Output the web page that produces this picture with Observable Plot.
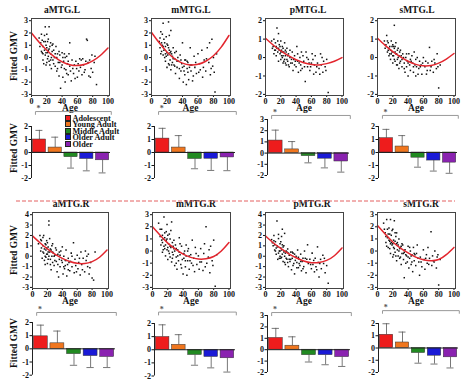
<!DOCTYPE html>
<html><head><meta charset="utf-8">
<script src="https://cdn.jsdelivr.net/npm/d3@7"></script>
<script src="https://cdn.jsdelivr.net/npm/@observablehq/plot@0.6"></script>
<style>
body{margin:0;background:#fff;}
#c{position:relative;width:474px;height:379px;overflow:hidden;background:#fff;font-family:"Liberation Serif","DejaVu Serif",serif;font-weight:bold;color:#111;}
.a{position:absolute;}
.t{position:absolute;font-size:9.5px;transform:translateX(-50%);white-space:nowrap;line-height:1;}
.yl{position:absolute;font-size:9.5px;white-space:nowrap;transform:translate(-50%,-50%) rotate(-90deg);line-height:1;}
.lg{position:absolute;font-size:8.2px;white-space:nowrap;line-height:6.6px;height:6.6px;}
.lg span{display:inline-block;width:4px;height:4px;border:0.7px solid #222;margin-right:1.5px;vertical-align:0px;}
</style></head><body><div id="c"></div><script>
// ---------- data ----------
const regions = ["aMTG.L","mMTG.L","pMTG.L","sMTG.L","aMTG.R","mMTG.R","pMTG.R","sMTG.R"];
const categories = ["Adolescent","Young Adult","Middle Adult","Older Adult","Older"];
const colors = ["#ee1c1c","#f0761e","#218a21","#1a1ad6","#8a22b0"];
const ageTicks = [0,20,40,60,80,100];
const scatterRange = [[-3,3],[-3,3],[-2,2],[-2,2],[-3,4],[-3,3],[-3,4],[-3,3]];
const barRange = [[-2,2],[-2,2],[-2,3],[-2,2],[-2,2],[-2,2],[-2,3],[-2,2]];

const fitAges = [0,10,20,30,40,50,60,70,80,90,100];
const fit_aMTG_L = [2.0,1.25,0.6,0.05,-0.35,-0.58,-0.65,-0.55,-0.27,0.17,0.78];
const fit_mMTG_L = [2.05,1.2,0.45,-0.1,-0.45,-0.6,-0.55,-0.3,0.15,0.85,1.8];
const fit_pMTG_L = [1.05,0.68,0.36,0.1,-0.12,-0.28,-0.38,-0.4,-0.33,-0.2,0.0];
const fit_sMTG_L = [1.05,0.66,0.32,0.04,-0.2,-0.37,-0.45,-0.43,-0.3,-0.08,0.22];
const fit_aMTG_R = [1.95,1.3,0.7,0.2,-0.2,-0.5,-0.68,-0.7,-0.52,-0.1,0.6];
const fit_mMTG_R = [2.0,1.3,0.65,0.15,-0.25,-0.52,-0.66,-0.64,-0.45,0.0,0.7];
const fit_pMTG_R = [1.95,1.3,0.75,0.25,-0.15,-0.45,-0.62,-0.6,-0.4,0.05,0.8];
const fit_sMTG_R = [2.1,1.4,0.75,0.25,-0.15,-0.5,-0.72,-0.8,-0.7,-0.3,0.3];

const pts_aMTG_L = [[10,1.6],[12,1.2],[13,0.5],[14,1.4],[15,0.9],[15,-0.2],[16,1.3],[17,0.6],[18,2.5],[18,0.2],[19,1.0],[20,0.8],[20,-0.4],[21,0.4],[22,1.5],[22,0.1],[23,2.5],[23,0.7],[24,-0.6],[25,1.2],[25,0.3],[26,-0.9],[27,0.5],[28,-0.2],[28,1.1],[30,0.0],[31,-0.7],[32,0.9],[33,-1.1],[34,0.3],[35,-0.4],[36,-1.5],[37,0.2],[38,-2.5],[39,-0.8],[40,0.4],[41,-1.6],[42,-0.3],[43,0.3],[44,-2.0],[45,-1.0],[46,0.1],[47,-0.5],[48,-1.4],[50,1.2],[50,-0.7],[52,-1.9],[53,-0.2],[55,-1.3],[56,-0.6],[58,-0.3],[60,-1.6],[61,-0.5],[62,-1.1],[64,-0.8],[65,-0.2],[66,-1.4],[68,-0.6],[70,-1.0],[72,1.5],[73,1.4],[74,-0.4],[75,-1.5],[76,-0.2],[78,-0.9],[80,-1.2],[82,-0.4],[85,-2.2],[83,0.1],[14,0.4],[17,1.8],[19,-0.6],[21,1.3],[24,0.9],[26,0.0],[29,0.6],[33,0.0],[36,0.5],[40,-0.6],[44,0.0],[48,-0.3],[54,-0.9],[59,-0.9],[67,-0.1],[11,0.9],[13,1.9],[15,0.3],[16,-0.5],[18,1.3],[19,0.4],[20,1.9],[21,-0.1],[22,0.6],[23,-0.3],[25,-0.2],[27,1.0],[29,-0.5],[31,0.3],[34,-0.9],[37,-0.4],[41,0.0],[43,-0.9],[46,-1.3],[49,0.3],[51,-1.1],[57,-1.7],[63,-0.1],[69,-1.2],[71,-0.3],[77,-1.6],[79,0.2]];
const pts_mMTG_L = [[10,1.3],[11,0.8],[12,2.1],[13,0.5],[14,1.0],[15,2.8],[15,0.2],[16,1.5],[17,0.0],[18,0.9],[18,-0.3],[19,1.7],[20,0.4],[20,-0.8],[21,0.2],[22,2.9],[22,-0.5],[23,1.8],[23,0.6],[24,-0.2],[25,2.2],[25,-1.0],[26,0.3],[27,-0.4],[28,0.8],[29,-0.6],[30,-0.1],[31,-1.3],[32,0.5],[33,-0.8],[35,-0.3],[36,-1.7],[37,0.2],[38,-1.1],[39,-0.5],[40,1.2],[41,-2.0],[42,-0.7],[43,-1.4],[44,-0.2],[45,-2.2],[46,-0.9],[47,-0.4],[48,-1.8],[50,0.8],[51,-1.1],[52,-0.6],[54,-1.5],[55,0.1],[56,-0.8],[58,-1.3],[60,0.3],[62,-0.5],[63,-1.0],[65,0.6],[66,-1.6],[68,-0.2],[70,-1.1],[72,0.8],[74,-0.4],[75,1.2],[76,-1.4],[78,1.5],[79,-0.7],[80,0.0],[82,-2.8],[84,0.3],[13,1.2],[16,0.6],[19,0.1],[21,1.0],[24,0.4],[27,0.1],[30,-0.7],[34,0.0],[38,-0.2],[42,-1.1],[46,-0.3],[49,-0.8],[11,1.6],[12,0.3],[14,1.9],[15,0.9],[17,1.2],[18,0.3],[20,1.1],[22,0.8],[23,-0.6],[25,0.5],[26,-0.6],[28,-0.1],[30,0.4],[33,-0.3],[36,-0.9],[40,-0.8],[43,-0.2],[47,-1.2],[50,-0.6],[53,-1.9],[57,-0.4],[61,-1.2],[67,-0.8],[71,-0.1],[77,-0.9],[81,-1.2]];
const pts_pMTG_L = [[8,0.9],[10,0.6],[11,1.0],[12,0.4],[13,0.8],[14,0.1],[15,1.6],[15,0.5],[16,0.3],[17,1.3],[17,-0.2],[18,0.7],[19,0.2],[20,0.9],[20,-0.1],[21,0.4],[22,0.0],[22,0.6],[23,-0.3],[24,0.3],[25,0.8],[25,-0.1],[26,0.1],[27,-0.4],[28,0.5],[29,-0.2],[30,0.2],[31,-0.5],[32,0.0],[33,-0.3],[35,0.3],[36,-0.7],[37,-0.1],[38,0.1],[40,-0.5],[41,0.6],[42,-0.2],[43,-0.8],[45,0.0],[46,-0.4],[47,0.3],[48,-0.6],[50,-0.2],[52,-1.3],[53,0.3],[55,-0.5],[56,-0.1],[58,-0.7],[60,-0.3],[61,0.2],[63,-0.9],[64,-0.4],[65,0.1],[66,-0.8],[68,-0.3],[70,-0.6],[72,0.2],[73,-0.4],[75,-0.8],[76,-0.2],[78,-0.5],[80,-0.1],[82,-1.9],[14,0.6],[18,0.4],[21,0.1],[23,0.5],[26,0.4],[29,0.1],[34,-0.1],[39,-0.2],[44,-0.3],[49,0.1],[57,-0.3],[9,0.5],[11,0.2],[13,0.4],[16,0.9],[17,0.5],[19,0.6],[20,0.3],[22,0.3],[23,0.1],[24,-0.2],[26,-0.3],[27,0.3],[28,-0.1],[30,-0.4],[32,0.4],[35,-0.3],[38,-0.4],[42,0.2],[46,-0.7],[51,-0.5],[54,0.0],[59,-0.5],[62,-0.1],[67,-0.5],[71,-0.9],[74,0.0],[79,-0.7]];
const pts_sMTG_L = [[9,0.9],[10,0.5],[12,1.2],[13,0.3],[14,0.8],[15,0.1],[16,0.6],[17,-0.1],[18,0.9],[19,0.3],[20,0.7],[20,-0.3],[21,0.1],[22,1.75],[22,0.5],[23,-0.2],[24,0.8],[24,0.2],[25,-0.4],[26,0.4],[27,0.0],[28,-0.6],[29,0.3],[30,-0.2],[31,0.1],[32,-0.5],[33,0.2],[35,-0.3],[36,-0.8],[37,0.0],[38,-0.5],[40,-1.0],[41,0.2],[42,-0.4],[43,-0.7],[45,0.1],[46,-0.3],[47,-0.8],[48,0.3],[50,-1.0],[51,-0.5],[52,0.0],[54,-0.6],[55,-0.2],[57,-0.4],[58,-0.9],[60,0.0],[62,-0.5],[63,-0.2],[65,-0.7],[66,-0.3],[68,0.55],[70,-0.5],[71,-0.2],[73,-0.8],[75,-0.3],[77,-0.6],[78,0.2],[80,-1.65],[82,-0.4],[15,0.5],[18,0.2],[21,0.6],[23,0.3],[26,-0.1],[29,-0.3],[34,0.0],[39,-0.2],[44,-0.2],[49,-0.4],[56,-0.5],[11,0.7],[13,0.9],[14,0.4],[16,0.2],[17,0.4],[19,0.6],[20,0.1],[22,-0.1],[23,0.6],[25,0.2],[26,-0.4],[27,0.5],[28,0.1],[30,0.4],[32,-0.1],[35,-0.6],[38,0.2],[40,-0.3],[43,-0.1],[47,-0.5],[50,-0.1],[53,-0.9],[59,-0.3],[64,-0.9],[69,-0.7],[74,-0.1],[79,-0.5]];
const pts_aMTG_R = [[8,1.2],[10,2.0],[11,0.5],[12,1.5],[13,-0.2],[14,1.0],[15,2.0],[15,0.3],[16,-0.4],[17,1.2],[18,0.6],[18,-0.1],[19,1.5],[20,0.2],[20,-0.7],[21,0.9],[22,3.4],[22,3.0],[22,0.0],[23,1.7],[24,-0.3],[25,0.6],[25,-1.3],[26,1.0],[27,-0.6],[28,0.3],[29,-0.9],[30,0.1],[31,0.8],[32,-0.5],[33,-1.5],[34,0.2],[35,-2.0],[36,-0.3],[37,-1.0],[38,0.5],[40,-0.6],[41,-1.7],[42,0.0],[43,-1.2],[44,-0.4],[45,0.6],[46,-1.9],[47,-0.8],[48,-0.2],[50,-1.4],[51,-0.5],[52,0.3],[53,-1.0],[55,1.3],[56,-1.6],[57,-0.3],[58,-0.9],[60,0.1],[61,-1.2],[62,-0.6],[64,-1.8],[65,0.4],[66,-0.8],[68,-0.2],[70,-1.5],[71,0.5],[72,-0.4],[74,-1.0],[75,0.2],[76,-1.7],[78,-0.6],[80,-2.1],[82,-2.3],[84,0.4],[14,0.4],[17,0.0],[19,0.8],[21,-0.3],[24,0.7],[27,0.4],[30,-0.4],[36,0.4],[39,-0.4],[44,-0.9],[49,-0.6],[11,1.6],[12,0.8],[14,1.8],[16,0.7],[17,-0.8],[18,1.1],[19,0.2],[20,1.3],[21,0.4],[23,0.4],[24,-0.8],[26,0.0],[27,1.2],[29,0.0],[32,0.6],[34,-0.8],[37,0.1],[40,0.9],[42,-1.0],[45,-0.4],[48,-1.3],[53,0.0],[59,-1.5],[63,-0.2],[67,-1.3],[73,0.0],[77,-1.1]];
const pts_mMTG_R = [[8,2.3],[10,1.2],[11,0.5],[12,1.8],[13,-0.1],[14,1.0],[15,2.8],[15,0.4],[16,1.5],[17,-0.4],[18,0.9],[19,2.2],[19,0.1],[20,1.3],[20,-0.7],[21,0.6],[22,-0.2],[23,1.0],[24,0.3],[25,2.4],[25,-0.9],[26,0.7],[27,-0.3],[28,0.2],[29,-1.2],[30,0.5],[31,-0.5],[32,-1.5],[33,0.1],[34,-0.8],[35,1.1],[36,-0.3],[37,-1.1],[38,0.4],[40,-1.9],[41,-0.6],[42,0.0],[43,-1.3],[44,-0.4],[45,-2.0],[46,-0.8],[47,0.2],[48,-1.5],[50,-0.3],[51,-1.0],[52,0.9],[54,-0.6],[55,-1.7],[56,0.3],[58,-1.1],[60,-0.4],[61,-1.5],[63,0.2],[64,-0.9],[66,-1.6],[67,-0.2],[68,0.6],[70,2.0],[71,-1.0],[73,-0.5],[75,-1.8],[76,0.4],[78,-0.8],[80,0.9],[82,-2.9],[84,-0.3],[13,0.7],[16,0.2],[18,1.6],[21,0.0],[23,0.4],[26,-0.1],[28,0.9],[31,0.2],[35,-0.1],[39,-0.7],[44,0.5],[49,-0.8],[10,1.8],[12,0.9],[13,1.3],[14,0.1],[16,1.1],[17,0.5],[19,1.0],[20,0.3],[22,1.4],[23,-0.5],[24,1.7],[26,-0.6],[27,0.4],[29,0.0],[31,-1.0],[33,-0.4],[36,0.6],[38,-1.4],[41,-0.2],[43,-0.8],[46,0.0],[48,-0.4],[53,-1.2],[57,-0.2],[62,-0.9],[69,-1.3],[74,0.1],[79,-1.2]];
const pts_pMTG_R = [[8,1.6],[10,1.0],[11,2.0],[12,0.6],[13,1.4],[14,0.2],[15,3.4],[15,1.0],[16,-0.3],[17,1.7],[18,0.5],[19,1.2],[20,-0.2],[20,0.8],[21,1.9],[22,2.6],[22,0.2],[23,-0.5],[24,1.0],[25,2.2],[25,0.0],[26,-0.8],[27,0.5],[28,-0.3],[29,0.7],[30,-1.0],[31,0.1],[32,-0.5],[33,0.4],[34,-1.3],[35,-0.2],[36,0.3],[37,-0.7],[38,-1.7],[40,0.0],[41,-0.6],[42,0.6],[43,-1.1],[44,-0.3],[45,-0.9],[46,0.2],[47,-1.4],[48,-0.5],[50,-1.0],[51,0.5],[52,-0.2],[53,-1.6],[55,1.1],[56,-0.7],[58,-0.3],[60,-1.2],[61,0.3],[62,-0.8],[64,-1.5],[65,-0.2],[66,-1.0],[68,0.9],[69,-0.6],[70,-2.0],[72,-0.3],[73,-1.2],[75,0.1],[76,-0.7],[78,-1.6],[80,-0.9],[82,-2.6],[14,0.8],[17,0.3],[19,0.0],[21,0.6],[23,0.9],[26,0.3],[28,0.4],[31,-0.3],[35,0.4],[39,-0.4],[44,-0.7],[49,-0.2],[9,1.3],[11,1.5],[12,1.1],[13,0.5],[16,0.9],[17,2.1],[18,-0.2],[19,0.5],[20,1.4],[21,-0.1],[22,1.1],[24,0.4],[25,-0.6],[27,-0.2],[29,-0.6],[30,0.3],[33,-0.3],[36,-0.9],[38,0.2],[41,-1.1],[43,-0.1],[46,-0.5],[49,-1.2],[54,-0.3],[59,-0.8],[63,-0.4],[67,-1.3],[71,-0.7],[77,-0.2]];
const pts_sMTG_R = [[8,2.3],[10,1.5],[11,0.7],[12,2.6],[13,1.1],[14,0.3],[15,1.9],[16,0.8],[17,2.6],[17,-0.2],[18,1.3],[19,0.5],[20,1.8],[20,-0.5],[21,0.9],[22,2.5],[22,0.2],[23,-0.1],[24,1.2],[25,0.6],[25,-0.8],[26,0.1],[27,-0.4],[28,1.0],[29,-0.6],[30,0.3],[31,-1.1],[32,-0.2],[33,0.5],[34,-0.7],[35,-2.2],[36,0.1],[37,-1.0],[38,-0.4],[40,0.4],[41,-1.4],[42,-0.6],[43,0.0],[44,-1.1],[45,-0.3],[46,-1.7],[47,0.3],[48,-0.8],[50,-1.2],[51,-0.2],[52,0.5],[54,-0.9],[55,-2.0],[56,-0.5],[58,-1.3],[60,0.1],[61,-0.7],[62,-1.5],[64,-0.3],[65,-1.0],[66,0.3],[68,-0.6],[70,1.6],[71,-1.2],[72,-0.4],[74,-0.9],[75,0.0],[77,-1.4],[78,-0.5],[80,-2.8],[82,-0.7],[14,1.4],[16,0.2],[18,0.7],[21,0.3],[23,1.5],[26,0.7],[28,0.0],[31,0.4],[35,-0.1],[39,-0.9],[44,-0.4],[49,-0.3],[9,1.8],[11,1.2],[12,0.4],[13,1.8],[15,0.9],[16,1.4],[17,0.6],[19,1.7],[20,0.6],[21,-0.3],[23,0.8],[24,-0.4],[25,1.5],[27,0.5],[29,0.2],[30,-0.5],[32,0.6],[34,-0.2],[37,-0.3],[40,-0.5],[42,0.3],[45,-0.9],[48,-0.2],[53,-0.6],[57,-0.9],[63,-0.6],[67,-1.1],[73,-0.8],[79,-0.3]];

const barMeans = [
  [1.0,0.38,-0.36,-0.5,-0.6],
  [1.07,0.38,-0.5,-0.48,-0.38],
  [1.12,0.33,-0.27,-0.5,-0.75],
  [1.1,0.46,-0.4,-0.62,-0.78],
  [0.95,0.42,-0.4,-0.55,-0.62],
  [0.97,0.38,-0.4,-0.55,-0.65],
  [1.03,0.35,-0.48,-0.48,-0.65],
  [1.08,0.45,-0.41,-0.63,-0.76]];
const barErrEnds = [
  [1.7,1.18,-1.2,-1.41,-1.57],
  [1.86,1.3,-1.25,-1.38,-1.4],
  [2.05,1.03,-0.87,-1.32,-1.7],
  [1.78,1.3,-1.13,-1.43,-1.6],
  [1.8,1.35,-1.25,-1.42,-1.42],
  [1.9,1.15,-1.18,-1.38,-1.7],
  [1.87,1.13,-1.08,-1.32,-1.47],
  [1.98,1.3,-1.24,-1.31,-1.63]];
const bracketY = [3.15,3.15,3.36,2.85,2.76,2.87,3.26,3.05];

const fits = [fit_aMTG_L,fit_mMTG_L,fit_pMTG_L,fit_sMTG_L,fit_aMTG_R,fit_mMTG_R,fit_pMTG_R,fit_sMTG_R];
const points = [pts_aMTG_L,pts_mMTG_L,pts_pMTG_L,pts_sMTG_L,pts_aMTG_R,pts_mMTG_R,pts_pMTG_R,pts_sMTG_R];

// ---------- layout ----------
const frames = [
  {l:31,t:18,w:78,h:77,tx:62},{l:151,t:18,w:79,h:77,tx:191},{l:265,t:18,w:78,h:77,tx:308},{l:377,t:18,w:78,h:77,tx:417},
  {l:32,t:212,w:76,h:76,tx:71},{l:152,t:212,w:78,h:76,tx:196},{l:265,t:212,w:78,h:76,tx:312},{l:377,t:212,w:78,h:76,tx:421}];
const barBoxes = [
  {ax:31,w:79,yt:126,yb:178},{ax:154,w:81,yt:126,yb:178},{ax:267,w:82,yt:119,yb:175},{ax:378,w:79,yt:126,yb:178},
  {ax:32,w:83,yt:322.3,yb:375},{ax:154,w:81,yt:322.5,yb:375},{ax:267,w:83,yt:315,yb:372},{ax:378,w:80,yt:323.3,yb:372.3}];

const C = document.getElementById("c");
const FONT = "'Liberation Serif','DejaVu Serif',serif";
const fmt = d => (d < 0 ? "-" + (-d) : String(d));
function place(node, l, t) {
  const d = document.createElement("div");
  d.className = "a"; d.style.left = l + "px"; d.style.top = t + "px";
  d.appendChild(node); C.appendChild(d);
}
function html(cls, text, l, t) {
  const d = document.createElement("div");
  d.className = cls; d.textContent = text; d.style.left = l + "px"; d.style.top = t + "px";
  C.appendChild(d); return d;
}
const baseStyle = {background:"transparent", overflow:"visible", fontFamily:FONT, fontSize:"8px", fontWeight:"bold", color:"#111"};

function scatter(i) {
  const f = frames[i];
  const [lo, hi] = scatterRange[i];
  const R = hi - lo;
  const mL = 24, mR = 4, mT = 4, mB = 14;
  const fitData = fitAges.map((a, k) => ({a, v: fits[i][k]}));
  const p = Plot.plot({
    width: f.w + mL + mR, height: f.h + mT + mB,
    marginLeft: mL, marginRight: mR, marginTop: mT, marginBottom: mB,
    style: baseStyle,
    x: {domain: [0, 102]},
    y: {domain: [lo - 0.015 * R, hi + 0.03 * R]},
    marks: [
      Plot.axisX({ticks: ageTicks, tickFormat: fmt, tickSize: 2, tickPadding: 1, label: null, fill: "#111"}),
      Plot.axisY({ticks: d3.range(lo, hi + 1), tickFormat: fmt, tickSize: 2, tickPadding: 1.5, label: null, fill: "#111"}),
      Plot.dot(points[i], {x: d => d[0], y: d => d[1], r: 0.85, symbol: "square", fill: "#111", stroke: "none"}),
      Plot.line(fitData, {x: "a", y: "v", stroke: "#e3262e", strokeWidth: 1.5, curve: "natural"}),
      Plot.frame({stroke: "#444", strokeWidth: 1})
    ]
  });
  place(p, f.l - mL, f.t - mT);
  html("t", regions[i], f.tx, f.t - 12);
  html("t", "Age", f.l + f.w / 2, f.t + f.h + 9);
}

function bars(i) {
  const b = barBoxes[i];
  const [lo, hi] = barRange[i];
  const mL = 18, mR = 6, mT = 26, mB = 4;
  const data = categories.map((c, k) => ({k, c, m: barMeans[i][k], e: barErrEnds[i][k]}));
  const by = bracketY[i];
  const tick = 0.22 * (hi - lo) / 4;
  const br = [[-0.25, by - tick], [-0.25, by], [4.55, by], [4.55, by - tick]];
  const p = Plot.plot({
    width: b.w + mL + mR, height: (b.yb - b.yt) + mT + mB,
    marginLeft: mL, marginRight: mR, marginTop: mT, marginBottom: mB,
    style: baseStyle,
    x: {domain: [-0.5, 4.5], axis: null},
    y: {domain: [lo, hi], axis: null},
    color: {domain: categories, range: colors},
    marks: [
      Plot.ruleX(data, {x: "k", y1: "m", y2: "e", stroke: "#555", strokeWidth: 0.8}),
      Plot.ruleY(data, {y: "e", x1: d => d.k - 0.22, x2: d => d.k + 0.22, stroke: "#555", strokeWidth: 0.8}),
      Plot.rect(data, {x1: d => d.k - 0.42, x2: d => d.k + 0.42, y1: d => 0, y2: "m", fill: "c", stroke: "#333", strokeWidth: 0.5}),
      Plot.ruleY([0], {x1: -0.5, x2: 4.5, stroke: "#222", strokeWidth: 1}),
      Plot.ruleX([-0.5], {y1: lo, y2: hi, stroke: "#222", strokeWidth: 1}),
      Plot.axisY({ticks: d3.range(lo, hi + 1), tickFormat: fmt, tickSize: 2.5, tickPadding: 1, label: null, fill: "#111"}),
      Plot.line(br, {x: d => d[0], y: d => d[1], stroke: "#999", strokeWidth: 1}),
      Plot.text([0], {x: () => -0.05, y: () => by, text: () => "*", fontSize: 8, dy: -3, fill: "#555"})
    ]
  });
  place(p, b.ax - mL, b.yt - mT);
}

for (let i = 0; i < 8; i++) { scatter(i); bars(i); }

// y labels
html("yl", "Fitted GMV", 15, 56);
html("yl", "Fitted GMV", 15, 148);
html("yl", "Fitted GMV", 15, 250);
html("yl", "Fitted GMV", 15, 343);

// legend
categories.forEach((c, k) => {
  const d = html("lg", "", 65, 114.5 + k * 6.6);
  const s = document.createElement("span"); s.style.background = colors[k];
  d.appendChild(s); d.appendChild(document.createTextNode(c));
});

// dashed separator
const sep = d3.create("svg").attr("width", 474).attr("height", 4);
sep.append("line").attr("x1", 16).attr("x2", 455).attr("y1", 2).attr("y2", 2)
  .attr("stroke", "#e46060").attr("stroke-width", 1).attr("stroke-dasharray", "4,2");
place(sep.node(), 0, 189);
</script></body></html>
